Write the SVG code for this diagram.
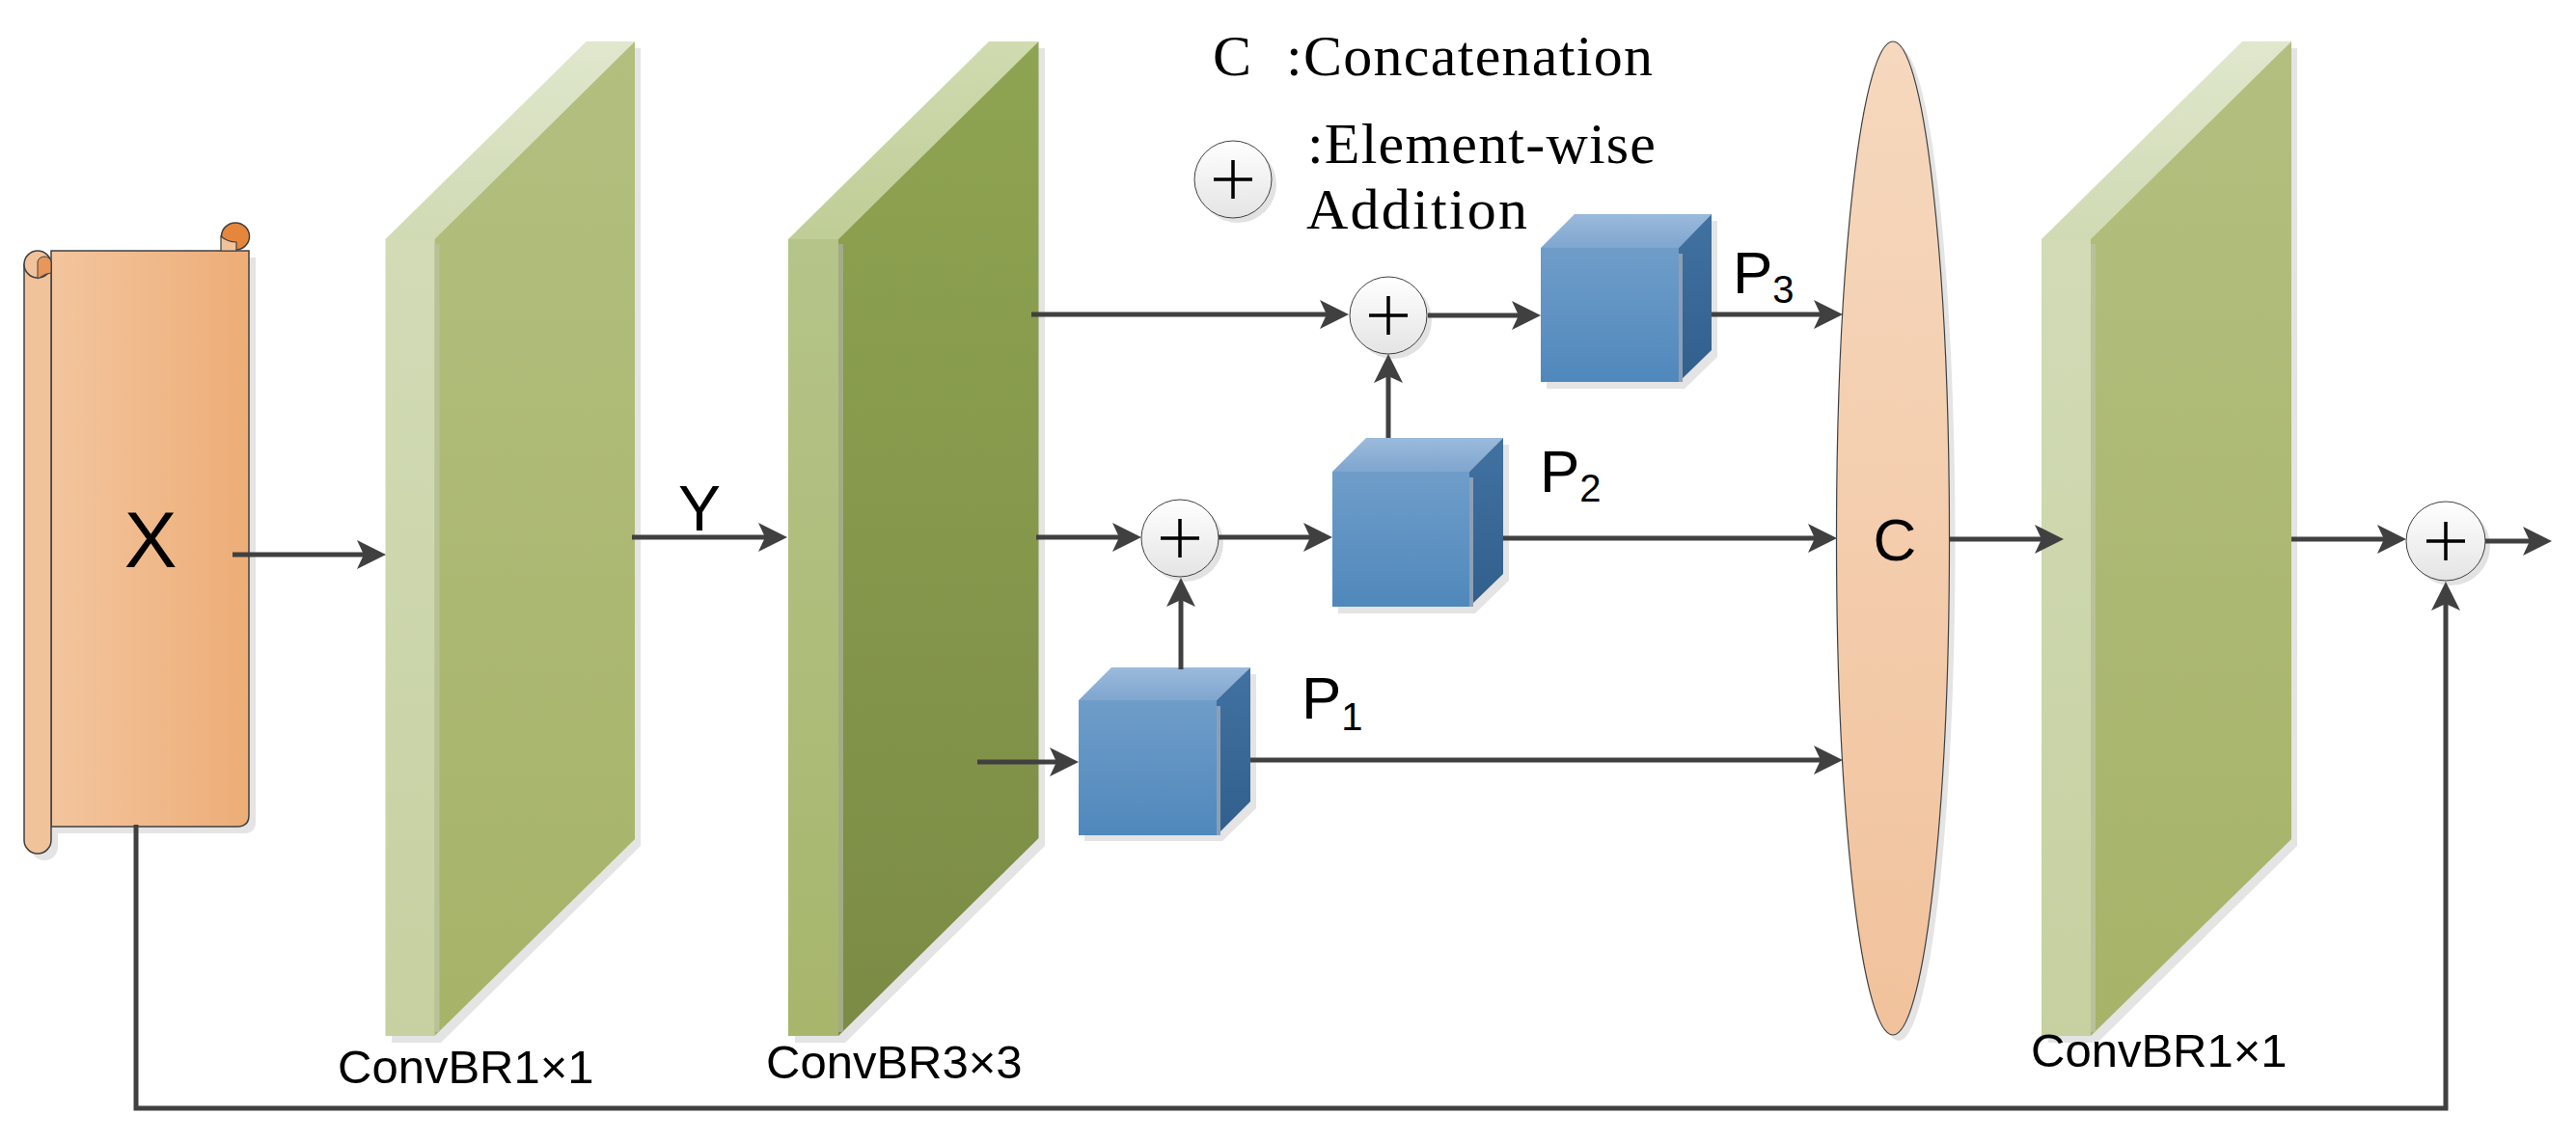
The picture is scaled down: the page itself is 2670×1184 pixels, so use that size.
<svg xmlns="http://www.w3.org/2000/svg" width="2670" height="1184" viewBox="0 0 2670 1184">
<style>
.ln{fill:none;stroke:#404040;stroke-width:5}
.arr{marker-end:url(#ah)}
.sh{fill:#E4E4E4}
.edge{stroke:#404040;stroke-width:1.5}
.sans{font-family:"Liberation Sans",Arial,sans-serif;fill:#000}
.serif{font-family:"Liberation Serif","Times New Roman",serif;fill:#000}
.plus{stroke:#000;stroke-width:3.5}
</style>
<defs>
<marker id="ah" markerUnits="userSpaceOnUse" markerWidth="32" markerHeight="32" refX="22" refY="15" orient="auto">
<path d="M0,0 L30,15 L0,30 L7,15 z" fill="#404040"/>
</marker>
<linearGradient id="scrollG" x1="0" y1="0" x2="1" y2="0">
<stop offset="0" stop-color="#F3C59E"/><stop offset="1" stop-color="#EDAD77"/>
</linearGradient>
<linearGradient id="ellG" x1="0" y1="0" x2="0" y2="1">
<stop offset="0" stop-color="#F6D8BE"/><stop offset="1" stop-color="#F1C29C"/>
</linearGradient>
<linearGradient id="circG" x1="0" y1="0" x2="0" y2="1">
<stop offset="0" stop-color="#FFFFFF"/><stop offset="1" stop-color="#E4E4E4"/>
</linearGradient>
<linearGradient id="l1top" x1="0" y1="0" x2="0" y2="1">
<stop offset="0" stop-color="#E0E7CD"/><stop offset="1" stop-color="#D0DAB3"/>
</linearGradient>
<linearGradient id="l1side" x1="0" y1="0" x2="0" y2="1">
<stop offset="0" stop-color="#D2DBB6"/><stop offset="1" stop-color="#C6D0A0"/>
</linearGradient>
<linearGradient id="l1main" x1="0" y1="0" x2="0" y2="1">
<stop offset="0" stop-color="#B3BF7F"/><stop offset="1" stop-color="#A6B368"/>
</linearGradient>
<linearGradient id="l2top" x1="0" y1="0" x2="0" y2="1">
<stop offset="0" stop-color="#D0DBB0"/><stop offset="1" stop-color="#BFCD96"/>
</linearGradient>
<linearGradient id="l2side" x1="0" y1="0" x2="0" y2="1">
<stop offset="0" stop-color="#B5C489"/><stop offset="1" stop-color="#A7B66B"/>
</linearGradient>
<linearGradient id="l2main" x1="0" y1="0" x2="0" y2="1">
<stop offset="0" stop-color="#8FA452"/><stop offset="1" stop-color="#7B8B45"/>
</linearGradient>
<linearGradient id="cfront" x1="0" y1="0" x2="0" y2="1">
<stop offset="0" stop-color="#6F9DC9"/><stop offset="1" stop-color="#5088BC"/>
</linearGradient>
<linearGradient id="ctop" x1="0" y1="0" x2="0" y2="1">
<stop offset="0" stop-color="#9BBADB"/><stop offset="1" stop-color="#7FA6CF"/>
</linearGradient>
<linearGradient id="cside" x1="0" y1="0" x2="0" y2="1">
<stop offset="0" stop-color="#4172A2"/><stop offset="1" stop-color="#325F8C"/>
</linearGradient>
</defs>

<!-- X scroll -->
<g id="node-X">
<path class="sh" d="M32,281 L60,267 L265,267 L265,852 Q265,864 253,864 L60,864 L60,878 A14,14 0 0 1 32,878 Z"/>
<path d="M53,260 L258,260 L258,845 Q258,857 246,857 L53,857 Z" fill="url(#scrollG)" class="edge"/>
<path d="M25,274 L25,871 A14,14 0 0 0 53,871 L53,274 Z" fill="#F1C39B" class="edge"/>
<ellipse cx="39" cy="274" rx="14" ry="14" fill="#F1C39B" class="edge"/>
<path d="M39,289 L39,272 A7,6 0 0 1 53,272 L53,283 Q47,283 39,289 Z" fill="#E8965A" stroke="#404040" stroke-width="1"/>
<ellipse cx="244" cy="245" rx="14.5" ry="14" fill="#E6863C" class="edge"/>
<path d="M229,245 L229,260 L245,260 L245,251 Q236,251 229,245 Z" fill="#F1C39B" stroke="#404040" stroke-width="1.2"/>
<text class="sans" x="156" y="588" font-size="82" text-anchor="middle">X</text>
</g>

<!-- Conv1 -->
<g id="node-conv1">
<polygon class="sh" points="406,255 614,50 664,50 664,877 457,1081 406,1081"/>
<polygon points="399.5,248 607.7,43 658,43 450.5,248" fill="url(#l1top)"/>
<rect x="399.5" y="248" width="51" height="826" fill="url(#l1side)"/>
<polygon points="450.5,248 658,43 658,870 450.5,1074" fill="url(#l1main)"/>
<rect x="450.5" y="253" width="5" height="817" fill="#B9C198"/>
<text class="sans" x="350" y="1123" font-size="49">ConvBR1×1</text>
</g>

<!-- Conv2 -->
<g id="node-conv2">
<polygon class="sh" points="824,255 1032,50 1083,50 1083,877 876,1081 824,1081"/>
<polygon points="817,248 1025,43 1076.5,43 869,248" fill="url(#l2top)"/>
<rect x="817" y="248" width="52" height="826" fill="url(#l2side)"/>
<polygon points="869,248 1076.5,43 1076.5,869 869,1074" fill="url(#l2main)"/>
<rect x="869" y="253" width="5" height="817" fill="#A2AB86"/>
<text class="sans" x="794" y="1118" font-size="49">ConvBR3×3</text>
</g>

<!-- Conv3 -->
<g id="node-conv3">
<polygon class="sh" points="2123,255 2331,50 2381,50 2381,877 2174,1081 2123,1081"/>
<polygon points="2116,248 2324,43 2375,43 2167,248" fill="url(#l1top)"/>
<rect x="2116" y="248" width="51" height="826" fill="url(#l1side)"/>
<polygon points="2167,248 2375,43 2375,870 2167,1074" fill="url(#l1main)"/>
<rect x="2167" y="253" width="5" height="817" fill="#B9C198"/>
<text class="sans" x="2105" y="1106" font-size="49">ConvBR1×1</text>
</g>

<!-- Cube P1 -->
<g id="node-P1">
<polygon class="sh" points="1124,733 1158,699 1302,699 1302,838 1267,872 1124,872"/>
<polygon points="1118,726 1152,692 1296,692 1261,726" fill="url(#ctop)"/>
<rect x="1118" y="726" width="143" height="140" fill="url(#cfront)"/>
<polygon points="1261,726 1296,692 1296,831 1261,866" fill="url(#cside)"/>
<rect x="1261" y="732" width="4" height="134" fill="#8BA0B6"/>
<text class="sans" x="1349" y="745" font-size="62">P<tspan font-size="40" dy="12">1</tspan></text>
</g>

<!-- Cube P2 -->
<g id="node-P2">
<polygon class="sh" points="1387,496 1422,461 1564,461 1564,602 1529,636 1387,636"/>
<polygon points="1381,489 1416,454 1558,454 1523,489" fill="url(#ctop)"/>
<rect x="1381" y="489" width="142" height="140" fill="url(#cfront)"/>
<polygon points="1523,489 1558,454 1558,595 1523,629" fill="url(#cside)"/>
<rect x="1523" y="495" width="4" height="134" fill="#8BA0B6"/>
<text class="sans" x="1596" y="510" font-size="62">P<tspan font-size="40" dy="10">2</tspan></text>
</g>

<!-- Cube P3 -->
<g id="node-P3">
<polygon class="sh" points="1603,264 1638,229 1780,229 1780,370 1746,403 1603,403"/>
<polygon points="1597,257 1632,222 1774,222 1740,257" fill="url(#ctop)"/>
<rect x="1597" y="257" width="143" height="139" fill="url(#cfront)"/>
<polygon points="1740,257 1774,222 1774,363 1740,396" fill="url(#cside)"/>
<rect x="1740" y="263" width="4" height="133" fill="#8BA0B6"/>
<text class="sans" x="1796" y="304" font-size="62">P<tspan font-size="40" dy="10">3</tspan></text>
</g>

<!-- Addition nodes -->
<g id="node-add3">
<circle cx="1444" cy="332" r="40" fill="#E2E2E2"/>
<circle cx="1439" cy="327" r="40" fill="url(#circG)" stroke="#404040" stroke-width="1"/>
<path class="plus" d="M1419,327 H1459 M1439,307 V347"/>
</g>
<g id="node-add2">
<circle cx="1228" cy="563" r="40" fill="#E2E2E2"/>
<circle cx="1223" cy="558" r="40" fill="url(#circG)" stroke="#404040" stroke-width="1"/>
<path class="plus" d="M1203,558 H1243 M1223,538 V578"/>
</g>
<g id="node-addout">
<circle cx="2540" cy="566" r="41" fill="#E2E2E2"/>
<circle cx="2535" cy="561" r="41" fill="url(#circG)" stroke="#404040" stroke-width="1"/>
<path class="plus" d="M2515,561 H2555 M2535,541 V581"/>
</g>

<!-- Concatenation ellipse -->
<g id="node-C">
<ellipse cx="1968" cy="564" rx="58.5" ry="515" fill="#E4E4E4"/>
<ellipse cx="1962" cy="558" rx="58.5" ry="515" fill="url(#ellG)" stroke="#404040" stroke-width="1.2"/>
<text class="sans" x="1964" y="581" font-size="62" text-anchor="middle">C</text>
</g>

<!-- Legend -->
<g id="legend">
<text class="serif" x="1257" y="78" font-size="60">C</text>
<text class="serif" x="1333" y="78" font-size="60" textLength="380">:Concatenation</text>
<circle cx="1283" cy="191" r="40" fill="#E2E2E2"/>
<circle cx="1278" cy="186" r="40" fill="url(#circG)" stroke="#404040" stroke-width="1"/>
<path class="plus" d="M1258,186 H1298 M1278,166 V206"/>
<text class="serif" x="1355" y="169" font-size="60" textLength="361">:Element-wise</text>
<text class="serif" x="1354" y="237" font-size="60" textLength="229">Addition</text>
</g>

<!-- Connectors -->
<g id="connectors">
<line class="ln arr" x1="241" y1="575" x2="392" y2="575"/>
<line class="ln arr" x1="655" y1="557" x2="808" y2="557"/>
<text class="sans" x="725" y="550" font-size="66" text-anchor="middle">Y</text>
<line class="ln arr" x1="1069" y1="326" x2="1390" y2="326"/>
<line class="ln arr" x1="1480" y1="327" x2="1589" y2="327"/>
<line class="ln arr" x1="1774" y1="326" x2="1902" y2="326"/>
<line class="ln arr" x1="1074" y1="557" x2="1175" y2="557"/>
<line class="ln arr" x1="1263" y1="557" x2="1373" y2="557"/>
<line class="ln arr" x1="1558" y1="558" x2="1896" y2="558"/>
<line class="ln arr" x1="1013" y1="790" x2="1110" y2="790"/>
<line class="ln arr" x1="1296" y1="788" x2="1902" y2="788"/>
<line class="ln arr" x1="1224" y1="694" x2="1224" y2="607"/>
<line class="ln arr" x1="1439" y1="454" x2="1439" y2="375"/>
<line class="ln arr" x1="2021" y1="559" x2="2131" y2="559"/>
<line class="ln arr" x1="2375" y1="559" x2="2486" y2="559"/>
<line class="ln arr" x1="2576" y1="561" x2="2637" y2="561"/>
<path class="ln arr" d="M141,855 V1149 H2535 V611"/>
</g>
</svg>
